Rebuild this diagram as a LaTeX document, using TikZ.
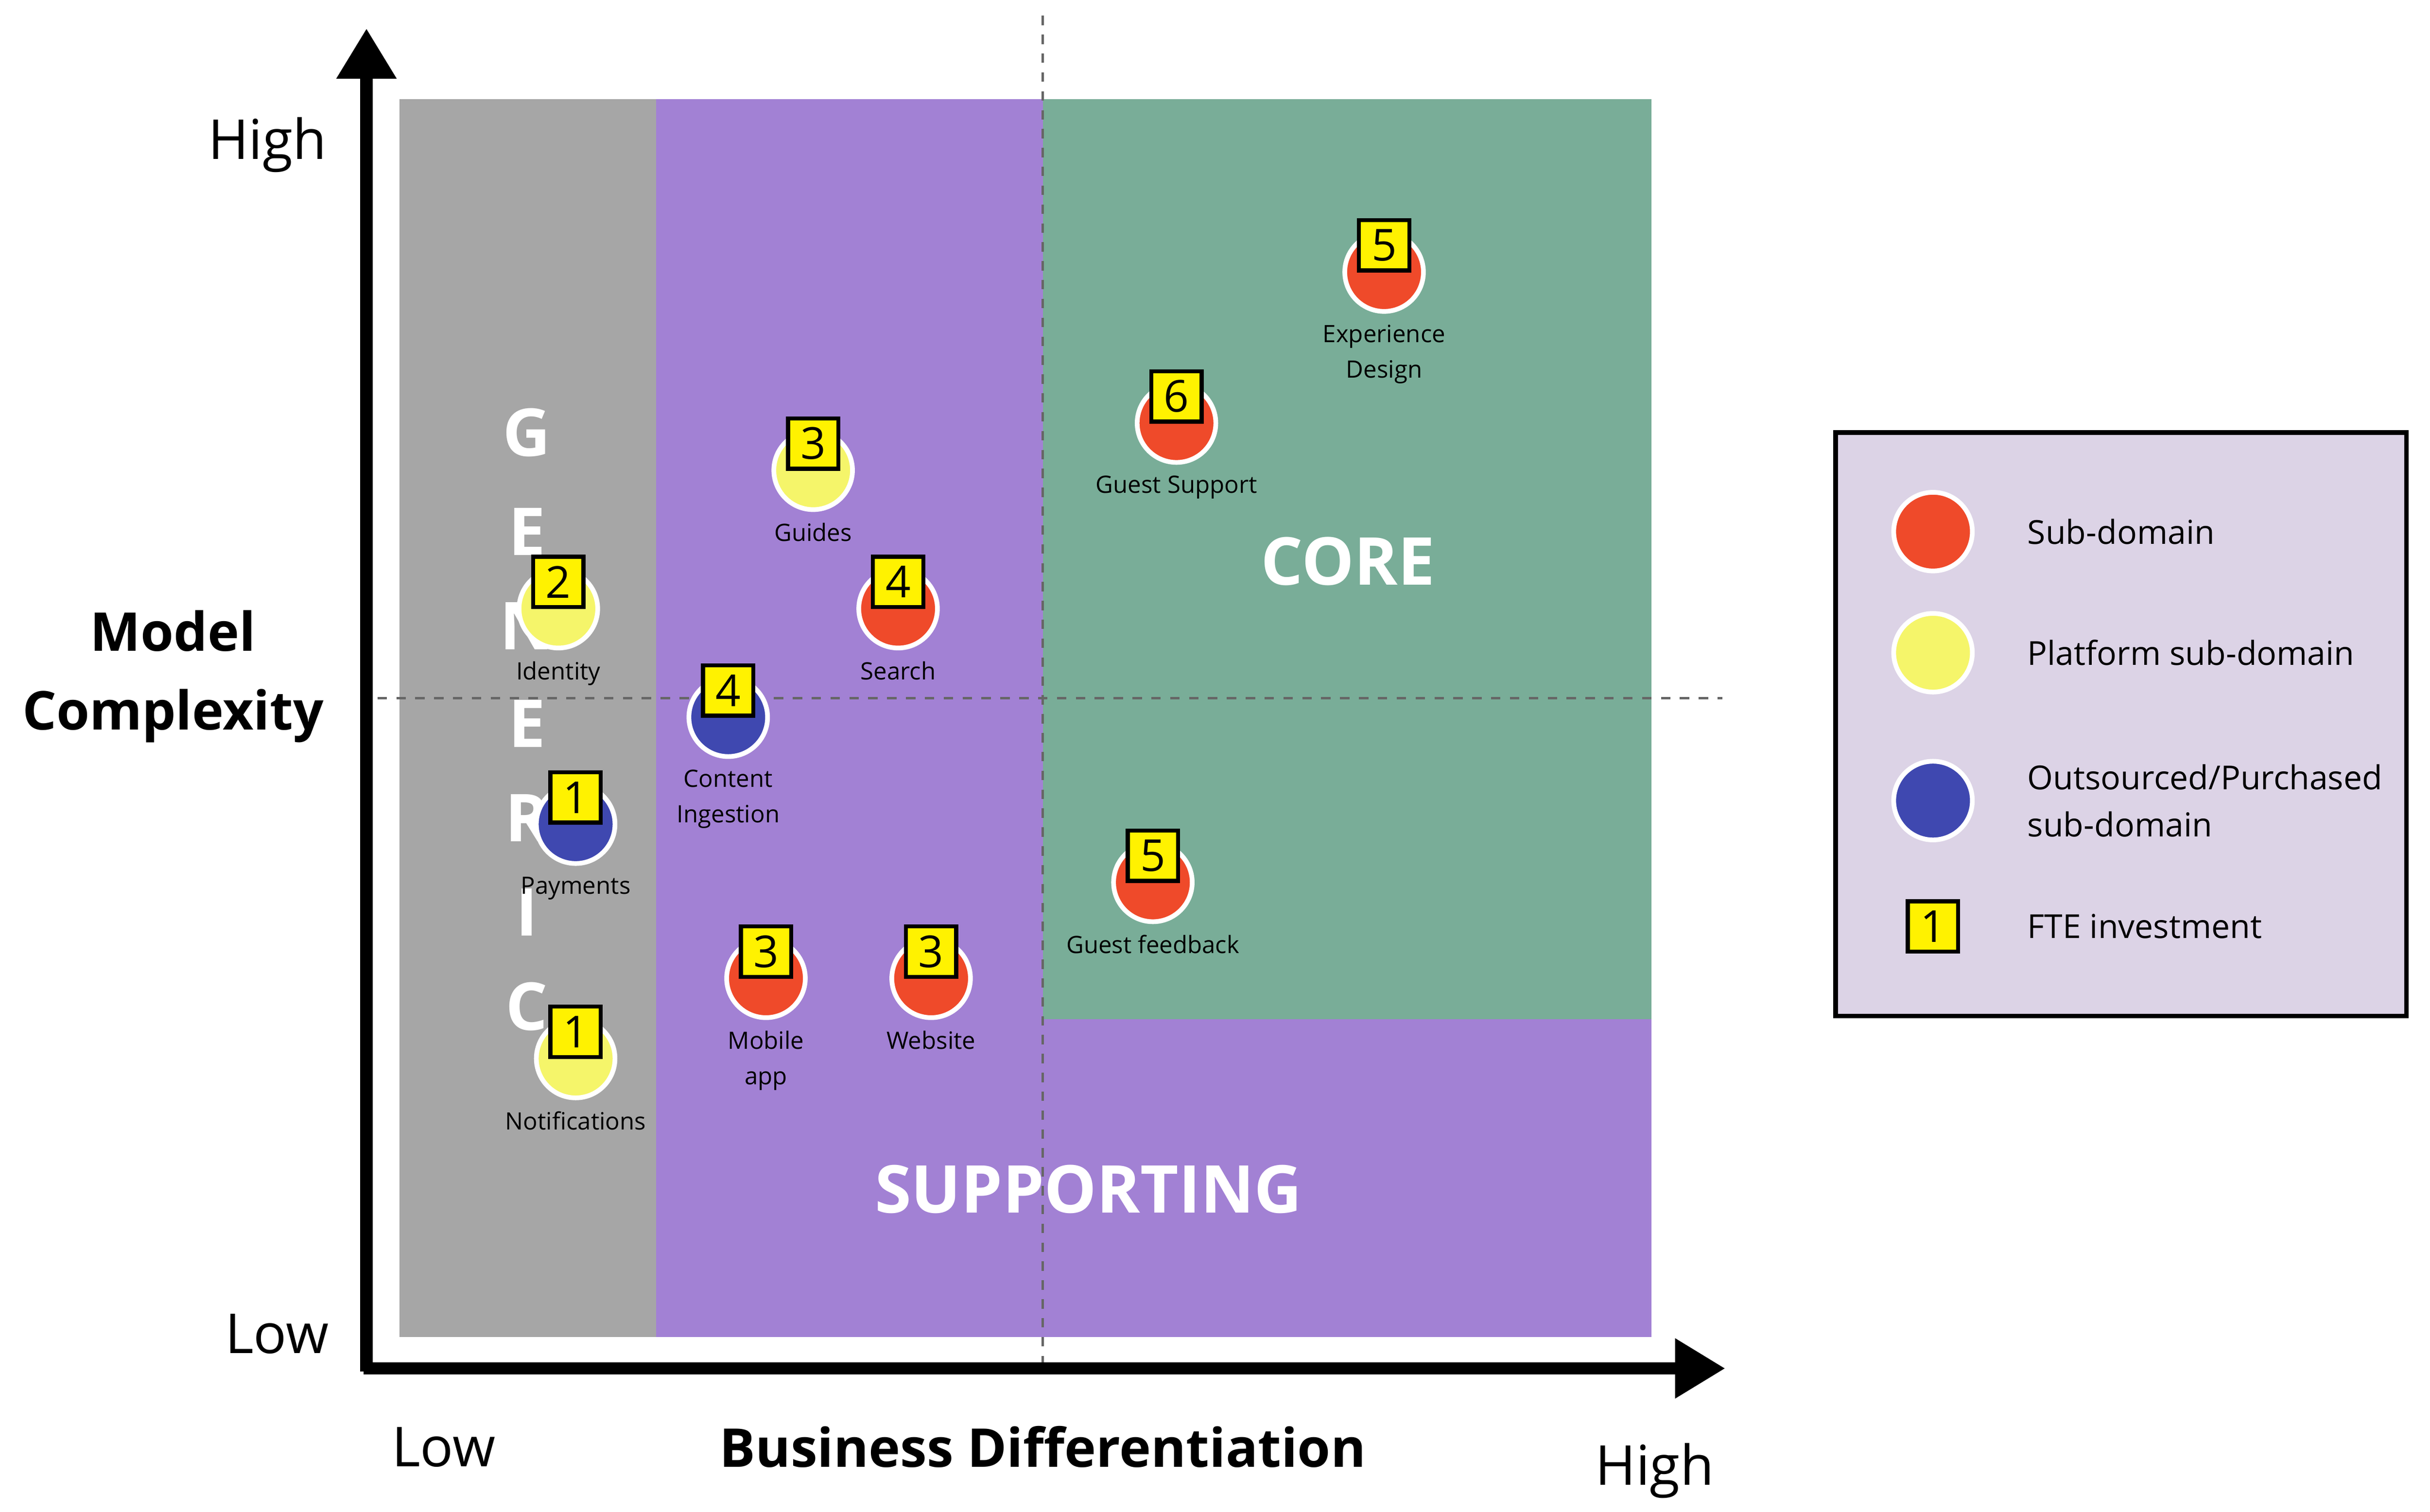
\documentclass[tikz,border=0pt]{standalone}
\usepackage{fontspec}
\setmainfont{Open Sans}
\usetikzlibrary{positioning, calc, arrows.meta}
\definecolor{generic}{HTML}{A6A6A6}
\definecolor{supporting}{HTML}{A281D4}
\definecolor{core}{HTML}{79AD98}
\definecolor{legendbg}{HTML}{DCD3E6}
\definecolor{subred}{HTML}{EF4A2A}
\definecolor{platyellow}{HTML}{F5F56A}
\definecolor{outblue}{HTML}{3F48B0}
\definecolor{fte}{HTML}{FFF200}
\tikzset{
  dom/.style={circle, draw=white, line width=1.5pt, minimum size=25pt, inner sep=0pt},
  sub/.style={dom, fill=subred},
  plat/.style={dom, fill=platyellow},
  outs/.style={dom, fill=outblue},
  badge/.style={draw=black, line width=1.3pt, fill=fte, minimum size=16pt, inner sep=0pt, font=\fontsize{14}{14}\selectfont},
  lbl/.style={font=\fontsize{7.6}{11.2}\selectfont, align=center},
  axis/.style={line width=4pt, -{Triangle[length=16pt,width=18pt]}},
  guide/.style={dashed, gray!80!black, line width=0.8pt},
  big/.style={text=white, font=\bfseries\fontsize{21}{21}\selectfont},
  legtext/.style={anchor=west, font=\fontsize{10.5}{15}\selectfont, align=left}
}
\begin{document}
\begin{tikzpicture}[x=0.5pt, y=-0.5pt]
\useasboundingbox (0,0) rectangle (1545,961);
% areas
\fill[supporting] (417,63) rectangle (1050,850);
\fill[generic] (254,63) rectangle (417,850);
\fill[core] (663,63) rectangle (1050,648);
\draw[guide] (663,10) -- (663,870);
\draw[guide] (240,444) -- (1095,444);
% axes
\coordinate (O) at (233,870);
\coordinate (ytop) at (233,18);
\coordinate (xend) at (1097,870);
\draw[axis] ($(O)+(0,2)$) -- (ytop);
\draw[axis] ($(O)+(-2,0)$) -- (xend);
\node[font=\fontsize{17.5}{17.5}\selectfont] (yhigh) at (170,92) {High};
\node[font=\fontsize{17.5}{17.5}\selectfont] (ylow) at (176,848) {Low};
\node[font=\bfseries\fontsize{17}{25}\selectfont, align=center] (ylabel) at (110,430) {Model\\Complexity};
\node[font=\fontsize{17.5}{17.5}\selectfont] (xlow) at (282,920) {Low};
\node[font=\bfseries\fontsize{17}{17}\selectfont] (xlabel) at (663,920) {Business Differentiation};
\node[font=\fontsize{17.5}{17.5}\selectfont] (xhigh) at (1052,935) {High};
% area names
\foreach \ch/\yy in {G/275, E/338, N/398, E/460, R/520, I/580, C/640}
  \node[big] at (335,\yy) {\ch};
\node[big] (corename) at (857,357) {CORE};
\node[big] (suppname) at (692,756) {SUPPORTING};
% sub-domains
\foreach \nm/\st/\xx/\yy/\fte/\txt in {
  exp/sub/880/173/5/{Experience\\Design},
  gsup/sub/748/269/6/{Guest Support},
  guides/plat/517/299/3/Guides,
  search/sub/571/387/4/Search,
  ident/plat/355/387/2/Identity,
  content/outs/463/456/4/{Content\\Ingestion},
  pay/outs/366/524/1/Payments,
  gfeed/sub/733/561/5/{Guest feedback},
  mobile/sub/487/622/3/{Mobile\\app},
  web/sub/592/622/3/Website,
  notif/plat/366/673/1/Notifications}{
  \node[\st] (\nm) at (\xx,\yy) {};
  \node[badge] (\nm-fte) at ($(\nm)+(0,-17)$) {\fte};
  \node[lbl, below=0pt of \nm] (\nm-lbl) {\txt};
}
% legend
\draw[fill=legendbg, line width=1.5pt] (1167,275) rectangle (1530,646);
\node[sub] (leg1) at (1229,338) {};
\node[plat] (leg2) at (1229,415) {};
\node[outs] (leg3) at (1229,509) {};
\node[badge] (leg4) at (1229,589) {1};
\node[legtext] at (1282,338) {Sub-domain};
\node[legtext] at (1282,415) {Platform sub-domain};
\node[legtext] at (1282,509) {Outsourced/Purchased\\sub-domain};
\node[legtext] at (1282,589) {FTE investment};
\end{tikzpicture}
\end{document}
